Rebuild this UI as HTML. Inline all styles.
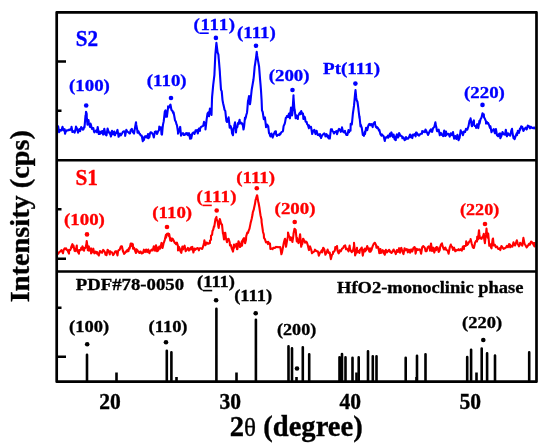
<!DOCTYPE html>
<html><head><meta charset="utf-8"><style>
html,body{margin:0;padding:0;background:#fff;}
body{width:550px;height:448px;overflow:hidden;}
svg{display:block;}
text{font-family:"Liberation Serif","Times New Roman",serif;font-weight:bold;stroke-width:0.35px;}
</style></head><body>
<svg width="550" height="448" viewBox="0 0 550 448"><rect width="550" height="448" fill="#fff"/><polyline points="57.0,133.7 58.1,126.3 59.2,132.1 60.0,130.5 60.3,130.0 61.4,130.5 62.5,126.8 63.6,130.5 64.7,129.2 65.0,133.8 65.8,131.5 66.9,130.3 68.0,130.4 69.1,129.6 70.0,130.1 70.2,129.6 71.3,128.5 71.5,126.8 72.4,132.0 73.0,131.8 73.5,131.2 74.6,132.6 75.7,128.6 76.0,126.6 76.8,128.2 77.9,131.9 78.0,132.6 79.0,129.4 80.0,128.8 80.1,131.1 81.2,127.1 82.3,128.4 83.0,129.7 83.4,129.4 84.5,126.1 84.5,127.4 85.5,115.6 85.6,119.0 86.0,111.7 86.7,113.8 86.8,118.2 87.5,124.6 87.8,122.2 88.5,120.1 88.9,122.7 89.5,125.0 90.0,127.0 90.5,123.6 91.1,125.4 92.0,128.9 92.2,127.9 93.3,128.0 94.0,131.5 94.4,132.4 95.5,131.0 96.6,130.2 97.0,132.2 97.7,127.0 98.8,134.0 99.9,134.0 100.0,131.6 101.0,133.1 102.1,131.0 103.2,134.6 104.3,128.7 105.0,132.2 105.4,134.5 106.5,135.4 107.6,128.5 108.7,132.0 109.8,133.7 110.0,132.5 110.9,136.5 112.0,130.9 113.1,134.4 114.2,131.6 115.0,135.2 115.3,133.9 116.4,132.9 117.5,129.9 118.6,136.8 119.7,134.6 120.0,133.6 120.8,135.4 121.9,133.7 123.0,131.7 124.1,131.3 125.0,132.3 125.2,135.9 126.3,129.9 127.4,131.7 128.5,132.3 129.6,133.5 130.0,133.5 130.7,130.2 131.8,128.9 132.9,132.3 134.0,133.0 134.0,133.6 135.1,127.2 136.0,122.2 136.2,124.4 137.3,130.2 137.5,132.7 138.4,131.1 139.5,133.9 140.0,133.9 140.6,135.5 141.7,135.6 142.8,141.2 143.0,137.3 143.9,140.0 145.0,136.3 145.0,137.3 146.1,136.0 147.2,137.7 148.0,134.1 148.3,138.2 149.4,137.2 150.0,133.4 150.5,132.4 151.6,132.6 152.7,134.1 153.0,134.5 153.8,137.5 154.9,131.7 156.0,131.6 156.0,131.3 157.1,134.0 158.2,131.1 159.0,130.1 159.3,126.6 160.4,127.9 161.0,127.3 161.5,134.2 162.0,134.6 162.6,128.0 163.0,124.6 163.7,121.4 164.5,114.4 164.8,111.5 165.5,110.4 165.9,116.8 167.0,116.8 167.0,115.8 168.0,108.2 168.1,106.4 169.2,107.5 169.5,106.6 170.3,104.8 170.5,104.7 171.4,109.7 171.5,110.1 172.5,110.8 172.5,111.1 173.5,113.6 173.6,112.4 174.7,118.5 175.0,120.3 175.8,121.6 176.5,124.2 176.9,124.9 178.0,131.9 178.0,133.7 179.1,130.4 179.5,129.4 180.2,126.9 181.0,135.7 181.3,133.6 182.4,133.5 183.0,133.2 183.5,134.9 184.6,134.9 185.7,133.3 186.0,134.4 186.8,133.0 187.9,134.1 188.0,135.2 189.0,133.2 190.1,138.7 191.0,134.9 191.2,138.5 192.3,133.5 193.4,132.4 194.0,133.1 194.5,134.0 195.6,130.2 196.7,131.1 197.0,130.0 197.8,133.4 198.9,128.6 200.0,130.9 200.0,128.6 201.1,126.9 202.2,126.3 203.0,126.0 203.3,125.5 204.0,121.9 204.4,122.7 205.5,126.5 205.5,129.4 206.6,119.7 207.5,113.7 207.7,113.2 208.8,112.0 209.0,116.3 209.9,108.5 210.5,110.1 211.0,111.8 211.5,114.9 212.0,99.0 212.1,96.9 213.0,87.1 213.2,85.0 214.3,75.8 214.4,75.0 215.3,55.0 215.4,53.8 216.4,42.8 216.5,43.7 217.5,51.6 217.6,52.3 218.4,54.7 218.7,58.6 218.8,59.3 219.8,71.3 220.0,75.0 220.9,88.4 221.0,89.7 221.7,91.1 222.0,94.3 222.5,100.1 223.1,103.2 224.2,108.0 224.5,109.7 225.3,111.0 226.0,117.5 226.4,120.9 227.0,122.0 227.5,119.9 228.5,117.9 228.6,117.3 229.7,127.7 230.0,125.7 230.8,126.4 231.9,131.0 232.0,133.0 233.0,135.2 233.5,128.9 234.1,126.5 235.0,122.4 235.2,123.6 236.0,132.4 236.3,128.3 237.4,126.8 238.0,123.1 238.5,124.1 239.6,119.7 240.0,123.5 240.7,122.4 241.8,123.9 242.0,123.2 242.9,125.5 243.5,129.5 244.0,127.1 245.0,117.6 245.1,119.4 246.0,116.6 246.2,115.3 247.0,112.7 247.3,109.8 248.0,100.9 248.4,99.7 249.0,96.1 249.5,100.3 250.0,104.3 250.6,100.0 251.5,91.5 251.7,89.7 252.8,83.4 253.4,80.0 253.9,75.6 254.7,66.4 255.0,64.8 256.1,57.1 256.7,51.8 257.2,55.9 258.3,62.1 259.1,66.7 259.4,70.9 260.1,79.7 260.5,84.1 261.0,90.5 261.6,100.2 262.0,110.4 262.7,112.0 263.8,119.2 264.0,118.0 264.9,117.3 266.0,126.3 266.0,127.2 267.0,126.5 267.1,124.5 268.0,126.0 268.2,126.1 269.0,133.2 269.3,133.2 270.4,136.4 271.5,133.5 272.0,135.3 272.6,137.6 273.7,134.4 274.8,131.8 275.9,131.3 276.0,134.0 277.0,135.9 278.1,134.6 279.2,135.1 280.0,133.6 280.3,134.4 281.4,132.1 282.5,131.6 283.0,130.9 283.6,126.1 284.7,123.8 285.0,122.6 285.8,118.0 286.5,117.6 286.9,116.1 288.0,117.0 288.0,116.5 289.0,113.5 289.1,116.0 290.0,118.3 290.2,114.3 291.0,107.5 291.3,108.6 292.0,115.4 292.4,113.6 293.5,95.3 293.5,97.0 294.5,110.5 294.6,109.0 295.7,118.3 296.0,115.1 296.8,116.4 297.9,119.0 298.0,116.1 299.0,114.1 300.0,112.6 300.1,114.3 301.2,111.0 302.3,114.2 303.0,113.5 303.4,119.0 304.5,116.6 305.0,117.9 305.6,121.7 306.7,122.0 307.0,123.8 307.8,124.8 308.9,128.3 309.0,125.4 310.0,127.3 311.0,126.9 311.1,127.3 312.2,134.0 313.0,131.4 313.3,130.6 314.4,129.9 315.5,134.1 316.0,133.1 316.6,130.7 317.7,135.0 318.8,134.6 319.9,136.0 320.0,134.0 321.0,138.1 322.1,135.4 323.2,134.3 324.3,133.4 325.0,134.3 325.4,136.4 326.5,134.2 327.6,137.2 328.0,135.5 328.7,138.5 329.8,138.5 330.0,136.9 330.9,129.4 332.0,129.3 332.0,130.7 333.1,131.5 334.0,133.5 334.2,132.0 335.3,132.2 336.4,131.0 337.0,134.1 337.5,132.6 338.6,129.6 339.0,128.9 339.7,129.2 340.8,131.8 341.9,129.0 342.0,127.4 343.0,131.7 344.1,132.4 345.0,130.8 345.2,132.1 346.3,135.0 347.0,134.5 347.4,135.0 348.5,130.1 349.0,132.3 349.6,130.7 350.5,130.7 350.7,123.8 351.8,124.4 352.0,122.8 352.9,113.5 353.5,109.3 354.0,105.7 354.5,100.3 355.1,93.5 355.5,90.0 356.2,97.4 356.5,99.6 357.3,101.5 357.5,102.0 358.4,108.7 358.5,109.8 359.5,118.1 359.5,116.2 360.5,126.5 360.6,124.3 361.7,127.5 362.0,129.4 362.8,134.9 363.0,134.1 363.9,135.8 365.0,131.5 365.0,134.1 366.1,127.7 367.0,128.2 367.2,130.2 368.3,125.7 369.0,124.3 369.4,123.9 370.5,125.2 371.0,124.0 371.6,124.2 372.7,127.1 373.0,124.4 373.8,123.2 374.9,122.0 375.0,124.0 376.0,127.1 377.0,128.1 377.1,127.1 378.2,128.5 379.0,130.7 379.3,129.7 380.4,134.1 381.5,135.7 382.0,134.4 382.6,135.3 383.7,136.2 384.8,141.0 385.0,139.7 385.9,137.3 387.0,137.5 388.0,135.6 388.1,137.8 389.2,135.7 390.0,133.6 390.3,136.4 391.4,132.4 392.5,136.1 393.0,137.1 393.6,134.6 394.7,139.4 395.8,140.2 396.0,136.8 396.9,134.3 398.0,137.6 399.0,135.5 399.1,133.0 400.2,135.3 401.3,136.0 402.0,136.4 402.4,138.2 403.5,137.3 404.6,140.2 405.7,139.4 406.0,137.1 406.8,138.6 407.9,138.8 409.0,137.2 410.0,134.5 410.1,137.3 411.2,135.3 412.3,138.1 413.0,134.6 413.4,135.3 414.5,134.2 415.6,136.3 416.0,132.6 416.7,132.6 417.8,134.9 418.9,134.5 419.0,135.6 420.0,134.3 421.1,133.6 422.0,133.6 422.2,131.1 423.3,131.9 424.4,131.2 425.0,132.1 425.5,129.5 426.6,131.6 427.7,134.1 428.0,135.0 428.8,133.2 429.9,130.6 431.0,129.3 431.0,131.1 432.1,131.9 433.0,128.3 433.2,128.1 434.3,126.9 435.4,122.2 435.5,123.7 436.5,128.1 437.0,131.2 437.6,131.3 438.7,129.6 439.8,135.2 440.0,134.4 440.9,132.9 442.0,134.9 443.0,134.8 443.1,136.2 444.2,130.5 445.3,136.0 446.0,131.6 446.4,135.1 447.5,133.7 448.0,133.7 448.6,133.9 449.7,136.6 450.8,133.3 451.9,134.8 452.0,135.2 453.0,132.1 454.1,138.6 455.0,136.5 455.2,136.0 456.3,138.9 457.4,134.8 458.0,136.9 458.5,140.2 459.6,137.8 460.7,130.2 461.0,131.8 461.8,131.7 462.9,135.2 464.0,131.6 464.0,131.5 465.1,132.0 466.0,128.9 466.2,129.8 467.3,129.6 468.0,127.4 468.4,126.6 469.5,120.9 470.5,119.4 470.6,118.4 471.7,125.7 472.0,126.2 472.8,122.8 473.9,120.4 474.0,124.6 475.0,126.1 476.0,126.5 476.1,127.9 477.2,124.2 478.0,125.3 478.3,128.1 479.4,120.9 479.5,123.9 480.5,119.2 481.0,118.6 481.6,117.3 482.5,113.2 482.7,114.8 483.8,114.3 484.0,117.2 484.9,118.8 486.0,121.3 486.0,123.6 487.1,122.2 488.0,123.7 488.2,123.1 489.3,125.7 490.0,128.0 490.4,126.3 491.5,132.2 492.0,130.8 492.6,130.5 493.7,129.0 494.8,133.1 495.0,133.3 495.9,129.0 497.0,135.3 498.1,136.3 499.2,133.7 500.0,133.4 500.3,138.2 501.4,136.1 502.5,132.0 503.6,134.3 504.7,134.4 505.0,134.7 505.8,129.8 506.9,136.3 508.0,133.3 509.1,134.9 510.0,134.4 510.2,135.8 511.3,130.6 512.0,128.8 512.4,132.1 513.5,138.1 514.0,136.7 514.6,139.3 515.7,135.9 516.8,133.1 517.0,135.3 517.9,130.8 519.0,132.8 520.0,128.6 520.1,129.9 521.2,126.3 522.3,127.0 523.4,130.9 524.5,128.9 525.0,128.5 525.6,127.6 526.7,129.4 527.8,125.6 528.9,126.1 530.0,128.4 530.0,126.7 531.1,126.9 532.2,128.1 533.3,127.8 534.4,127.5 534.5,129.4" fill="none" stroke="#0000ff" stroke-width="2.1" stroke-linejoin="round"/><polyline points="57.0,253.5 58.1,253.8 59.2,252.2 60.0,251.7 60.3,251.4 61.4,250.1 62.5,252.2 63.0,253.2 63.6,250.1 64.7,248.4 65.8,249.3 66.0,248.3 66.9,250.0 67.5,250.2 68.0,251.6 69.0,253.6 69.1,249.9 70.2,250.2 71.0,248.3 71.3,246.8 72.4,244.2 73.0,247.3 73.5,245.6 74.6,250.9 75.0,251.1 75.7,250.6 76.8,245.5 77.0,250.5 77.9,252.0 79.0,253.6 79.0,250.1 80.1,250.5 81.0,249.1 81.2,247.8 82.3,249.7 82.5,246.3 83.4,248.7 84.0,250.8 84.5,248.0 85.5,247.9 85.6,247.7 86.5,243.1 86.7,241.0 87.5,246.6 87.8,250.2 88.9,246.4 89.0,250.8 90.0,249.8 91.0,248.4 91.1,253.5 92.2,251.9 93.3,248.7 94.0,252.1 94.4,253.3 95.5,251.6 96.6,253.5 97.0,251.9 97.7,253.6 98.8,255.5 99.9,251.0 100.0,252.7 101.0,251.5 102.1,252.8 103.2,249.9 104.3,251.2 105.0,252.3 105.4,254.5 106.5,255.2 107.6,249.8 108.7,251.1 109.8,254.4 110.0,251.2 110.9,251.8 112.0,252.4 113.1,255.1 114.2,253.7 115.0,251.7 115.3,251.2 116.4,251.4 117.5,255.4 118.0,251.6 118.6,250.2 119.7,249.7 120.8,246.6 121.0,246.3 121.9,246.3 123.0,251.5 123.0,250.5 124.1,253.9 125.2,252.7 126.3,251.0 127.0,251.6 127.4,249.7 128.5,251.1 129.0,248.0 129.6,248.7 130.7,243.5 131.0,246.3 131.8,243.5 132.9,244.4 133.0,248.7 134.0,247.7 135.1,250.8 136.0,253.0 136.2,249.2 137.3,250.0 138.4,252.1 139.5,253.0 140.0,251.8 140.6,251.5 141.7,253.5 142.8,253.1 143.9,249.7 145.0,251.9 145.0,252.1 146.1,249.5 147.2,252.1 148.3,249.5 149.4,253.3 150.0,251.2 150.5,251.1 151.6,249.5 152.7,250.5 153.8,246.2 154.9,248.0 155.0,250.8 156.0,245.3 157.1,251.3 158.0,247.5 158.2,250.6 159.3,246.5 160.0,248.7 160.4,247.8 161.5,242.9 162.0,246.8 162.6,247.9 163.7,242.8 164.0,242.2 164.8,239.8 165.9,234.9 166.0,237.8 167.0,233.7 167.5,234.0 168.1,233.4 169.0,236.2 169.2,234.1 170.3,240.5 170.5,237.8 171.4,241.0 172.0,239.6 172.5,238.6 173.6,240.6 174.0,241.3 174.7,242.8 175.8,243.5 176.0,244.3 176.9,242.6 178.0,246.1 178.0,250.4 179.1,247.1 180.0,249.1 180.2,250.7 181.3,252.9 182.4,246.5 183.0,249.4 183.5,248.2 184.6,245.7 185.7,251.2 186.8,249.5 187.0,249.7 187.9,247.9 189.0,250.6 190.1,248.4 191.0,249.5 191.2,247.2 192.3,246.9 193.4,252.5 194.5,248.5 195.0,249.9 195.6,249.4 196.7,248.4 197.8,248.1 198.9,250.4 199.0,248.7 200.0,248.3 201.1,248.3 202.0,249.0 202.2,249.0 203.3,245.9 204.0,243.0 204.4,240.4 205.5,245.2 206.0,243.9 206.6,242.5 207.7,243.7 208.0,243.1 208.8,243.7 209.9,243.1 210.0,240.6 211.0,239.8 211.0,235.8 212.1,234.7 212.5,231.1 213.2,229.8 214.0,226.3 214.3,226.7 215.4,219.3 216.5,216.9 216.5,218.8 217.6,221.4 218.5,227.3 218.7,228.0 219.8,219.0 220.0,219.4 220.9,223.0 222.0,225.0 222.0,224.6 223.0,234.0 223.1,232.8 224.0,239.4 224.2,237.7 224.5,233.1 225.3,232.8 226.0,238.9 226.4,239.7 227.0,242.2 227.5,239.3 228.5,240.1 228.6,238.8 229.7,242.3 230.0,245.4 230.8,244.8 231.9,249.1 232.0,248.8 233.0,251.6 234.0,244.5 234.1,247.7 235.2,245.7 236.0,246.0 236.3,243.9 237.0,249.2 237.4,249.0 238.5,241.2 238.5,241.5 239.6,244.1 240.0,247.0 240.7,246.1 241.8,241.4 242.0,245.7 242.9,239.6 244.0,238.1 244.0,239.8 245.1,243.2 246.0,239.7 246.2,236.3 247.3,232.6 248.0,232.9 248.4,231.4 249.5,228.7 249.5,228.6 250.6,223.1 251.0,221.5 251.7,218.8 252.5,214.8 252.8,212.4 253.9,209.2 254.0,208.2 255.0,203.8 255.5,200.3 256.1,198.4 257.0,195.2 257.2,195.4 258.3,202.2 258.5,202.5 259.4,207.5 260.0,211.9 260.5,215.2 261.5,219.4 261.6,222.1 262.7,229.6 263.0,232.0 263.8,234.4 264.0,237.8 264.9,239.1 266.0,242.3 266.0,242.0 267.1,242.1 268.0,244.1 268.2,241.8 269.3,243.5 270.0,243.6 270.4,249.0 271.5,248.5 272.6,249.2 273.0,248.1 273.7,247.7 274.8,248.0 275.9,246.9 276.0,247.3 277.0,246.9 278.0,247.3 278.1,247.3 279.2,247.1 280.0,247.5 280.3,247.2 281.4,254.3 282.0,252.4 282.5,249.9 283.6,244.0 284.0,242.0 284.7,239.4 285.0,238.8 285.8,244.3 286.0,246.8 286.9,241.6 288.0,236.1 288.0,232.5 289.1,236.6 290.0,237.2 290.2,240.1 291.3,237.6 292.0,240.5 292.4,242.0 293.5,234.7 293.5,233.7 294.5,228.7 294.6,228.8 295.7,229.9 296.0,233.4 296.8,241.4 297.0,237.8 297.9,241.2 298.5,243.1 299.0,242.0 300.0,234.9 300.1,234.2 301.2,246.8 301.5,245.2 302.3,243.9 303.0,238.9 303.4,238.9 304.5,241.4 305.0,242.7 305.6,241.5 306.7,242.2 307.0,242.8 307.8,245.3 308.9,250.1 309.0,247.8 310.0,246.4 311.0,249.2 311.1,249.2 312.0,253.3 312.2,252.3 313.3,252.2 314.4,251.3 315.0,249.7 315.5,250.2 316.6,251.3 317.7,251.2 318.0,251.9 318.8,255.6 319.9,252.8 321.0,251.6 322.0,250.0 322.1,252.4 323.2,247.7 324.3,249.3 325.4,254.7 326.0,253.6 326.5,252.8 327.6,249.6 328.7,252.9 329.8,252.5 330.0,254.6 330.9,259.1 332.0,254.8 333.0,253.8 333.1,251.7 334.2,251.7 335.0,249.8 335.3,247.0 336.4,248.2 337.0,246.0 337.5,250.7 338.6,253.3 339.0,253.0 339.7,250.3 340.8,251.3 341.9,248.8 342.0,248.7 343.0,248.1 344.1,245.9 345.2,245.4 346.0,249.2 346.3,248.2 347.4,249.3 348.5,251.3 349.6,245.6 350.0,248.8 350.7,250.6 351.8,252.2 352.0,251.2 352.9,251.1 354.0,245.7 354.0,242.8 355.0,253.2 355.1,255.5 356.2,252.3 357.0,247.8 357.3,252.5 358.4,251.0 359.5,252.9 360.0,249.7 360.6,249.3 361.7,247.5 362.8,255.6 363.9,249.6 365.0,251.4 365.0,248.6 366.1,250.3 367.2,246.1 368.3,248.8 369.4,251.7 370.0,248.4 370.5,251.7 371.6,249.8 372.0,248.1 372.7,246.2 373.8,243.7 374.5,243.0 374.9,242.8 376.0,244.9 376.5,247.7 377.1,246.5 378.2,247.2 379.0,251.0 379.3,253.2 380.4,249.0 381.0,253.0 381.5,251.3 382.6,250.1 383.7,253.5 384.0,251.0 384.8,254.8 385.9,249.8 387.0,252.4 388.1,251.0 389.2,249.8 390.0,252.0 390.3,251.2 391.4,253.0 392.5,251.6 393.6,249.5 394.7,251.7 395.0,252.0 395.8,254.1 396.9,250.0 398.0,251.9 399.1,248.2 400.0,252.6 400.2,249.6 401.3,247.9 402.4,251.6 403.5,254.1 404.6,248.2 405.0,250.5 405.7,249.9 406.8,249.0 407.9,252.3 409.0,249.7 410.0,250.9 410.1,252.7 411.2,249.4 412.3,251.5 413.4,248.0 414.5,247.0 415.0,247.9 415.6,253.6 416.7,248.8 417.8,250.0 418.9,249.4 420.0,249.6 420.0,249.6 421.1,253.7 422.2,247.2 423.3,246.1 424.4,247.3 425.0,248.3 425.5,251.1 426.6,251.3 427.7,247.4 428.8,246.4 429.9,248.7 430.0,250.7 431.0,243.5 432.1,251.0 433.2,247.7 434.3,252.6 435.4,248.1 436.0,250.3 436.5,247.0 437.6,247.4 438.7,251.9 439.8,249.9 440.0,247.6 440.9,244.7 442.0,243.3 442.0,244.1 443.1,247.5 444.0,249.5 444.2,249.4 445.3,247.5 446.4,250.1 447.5,250.4 448.0,251.7 448.6,253.8 449.7,247.7 450.8,244.6 451.0,245.9 451.9,246.5 453.0,249.3 453.0,249.9 454.1,247.7 455.2,251.3 456.0,249.9 456.3,250.7 457.4,250.1 458.5,249.2 459.0,250.2 459.6,250.3 460.7,249.2 461.8,250.6 462.0,250.0 462.9,246.6 464.0,249.1 464.0,246.0 465.1,246.0 466.0,245.7 466.2,241.2 467.3,244.9 468.0,244.1 468.4,243.2 469.5,241.3 470.5,240.7 470.6,239.1 471.7,243.6 472.0,244.5 472.8,247.3 473.5,247.9 473.9,247.9 475.0,243.1 475.0,242.7 476.1,240.9 477.0,241.5 477.2,236.9 478.0,239.4 478.3,236.8 479.0,230.2 479.4,234.4 480.0,238.4 480.5,237.9 481.6,238.8 482.0,237.4 482.7,237.5 483.8,233.7 484.0,237.5 484.9,243.2 485.0,241.9 486.0,234.2 486.5,228.6 487.1,235.3 488.0,237.9 488.2,233.5 489.3,245.8 489.5,244.7 490.4,244.3 491.0,247.4 491.5,248.4 492.6,239.4 493.0,238.5 493.7,245.4 494.0,244.4 494.8,244.8 495.9,247.2 496.0,246.9 497.0,246.5 498.1,248.9 499.2,248.9 500.0,248.1 500.3,250.1 501.4,246.0 502.5,247.4 503.6,248.9 504.7,248.3 505.0,247.9 505.8,247.7 506.9,245.9 508.0,247.2 509.1,244.0 510.0,244.6 510.2,247.3 511.3,245.9 512.4,246.7 513.5,242.3 514.6,245.2 515.0,245.5 515.7,243.8 516.8,240.3 517.9,244.1 519.0,246.4 520.0,244.3 520.1,242.7 521.2,244.0 522.3,245.7 523.4,237.9 524.5,243.7 525.0,244.5 525.6,245.4 526.7,247.4 527.8,245.9 528.9,243.9 530.0,243.3 530.0,244.7 531.1,241.6 532.2,242.4 533.3,244.3 534.4,246.3 534.5,241.9" fill="none" stroke="#ff0000" stroke-width="2.1" stroke-linejoin="round"/><path d="M87 381.7V354.7 M166.8 381.7V350.7 M171.4 381.7V352.2 M216.4 381.7V308.7 M255.9 381.7V319.8 M288.5 381.7V346.4 M292 381.7V348.4 M302.8 381.7V347.2 M309.2 381.7V354.2 M339.5 381.7V357.2 M342 381.7V354.0 M345.5 381.7V357.4 M352.5 381.7V357.7 M358.7 381.7V357.4 M368 381.7V351.2 M372.8 381.7V356.2 M376.5 381.7V356.2 M405.7 381.7V357.7 M417 381.7V355.7 M425.5 381.7V354.2 M467.2 381.7V357.0 M471.1 381.7V349.8 M481.7 381.7V348.5 M487.1 381.7V353.2 M495 381.7V355.5 M529.2 381.7V352.4" stroke="#000" stroke-width="2.6" stroke-linecap="round" fill="none"/><path d="M116.5 381.7V372.5 M236.5 381.7V372.5 M356.5 381.7V372.5 M476.5 381.7V372.5 M176.5 381.7V377 M296.5 381.7V377 M416.5 381.7V377 M56.7 61.5H66 M56.7 258.8H66 M56.7 356.8H66 M56.7 110.8H61.5 M56.7 209.2H61.5 M56.7 307.8H61.5" stroke="#000" stroke-width="2.6" fill="none"/><rect x="56.7" y="12.3" width="479.8" height="369.4" fill="none" stroke="#000" stroke-width="2.7" stroke-linejoin="round"/><path d="M56.7 160.3H536.5M56.7 271.5H536.5" stroke="#000" stroke-width="2.6"/><circle cx="86.2" cy="105.5" r="2.3" fill="#0000ff"/><circle cx="171" cy="98" r="2.3" fill="#0000ff"/><circle cx="215.9" cy="37.9" r="2.3" fill="#0000ff"/><circle cx="256" cy="45.8" r="2.3" fill="#0000ff"/><circle cx="292.5" cy="90" r="2.3" fill="#0000ff"/><circle cx="355.4" cy="83.6" r="2.3" fill="#0000ff"/><circle cx="482.5" cy="104.9" r="2.3" fill="#0000ff"/><circle cx="87" cy="234.4" r="2.3" fill="#ff0000"/><circle cx="167" cy="227" r="2.3" fill="#ff0000"/><circle cx="216.7" cy="210.5" r="2.3" fill="#ff0000"/><circle cx="256.8" cy="188.3" r="2.3" fill="#ff0000"/><circle cx="294.7" cy="222" r="2.3" fill="#ff0000"/><circle cx="485" cy="224" r="2.3" fill="#ff0000"/><circle cx="87.2" cy="344.3" r="2.3" fill="#000"/><circle cx="166" cy="342.2" r="2.3" fill="#000"/><circle cx="216.1" cy="300.3" r="2.3" fill="#000"/><circle cx="255.7" cy="313.3" r="2.3" fill="#000"/><circle cx="297" cy="368.5" r="2.3" fill="#000"/><circle cx="483.3" cy="340" r="2.3" fill="#000"/><text transform="translate(75.8 46) scale(0.96 1.05)" font-size="22" fill="#0000ff" stroke="#0000ff">S2</text><text transform="translate(69.0 90.6) scale(1.02 0.93)" font-size="18.5" fill="#0000ff" stroke="#0000ff">(100)</text><text transform="translate(146.8 86.0) scale(1.02 0.93)" font-size="18.5" fill="#0000ff" stroke="#0000ff">(110)</text><rect x="199.5" y="32.4" width="9.2" height="1.6" fill="#0000ff"/><text transform="translate(193.5 29.8) scale(1.02 0.93)" font-size="18.5" fill="#0000ff" stroke="#0000ff" letter-spacing="0.7">(111)</text><text transform="translate(237.0 37.5) scale(1.02 0.93)" font-size="18.5" fill="#0000ff" stroke="#0000ff">(111)</text><text transform="translate(268.7 81.0) scale(1.02 0.93)" font-size="18.5" fill="#0000ff" stroke="#0000ff">(200)</text><text transform="translate(323.0 74.2) scale(1.03 0.93)" font-size="18.5" fill="#0000ff" stroke="#0000ff">Pt(111)</text><text transform="translate(464.0 97.7) scale(1.02 0.93)" font-size="18.5" fill="#0000ff" stroke="#0000ff">(220)</text><text transform="translate(75.5 184.5) scale(0.97 1.03)" font-size="22" fill="#ff0000" stroke="#ff0000">S1</text><text transform="translate(64 224.8) scale(1.02 0.93)" font-size="18.5" fill="#ff0000" stroke="#ff0000">(100)</text><text transform="translate(152.3 217.8) scale(1.02 0.93)" font-size="18.5" fill="#ff0000" stroke="#ff0000">(110)</text><rect x="202.6" y="204.6" width="9.2" height="1.6" fill="#ff0000"/><text transform="translate(196.6 202.0) scale(1.02 0.93)" font-size="18.5" fill="#ff0000" stroke="#ff0000" letter-spacing="0.3">(111)</text><text transform="translate(236.3 182.5) scale(1.02 0.93)" font-size="18.5" fill="#ff0000" stroke="#ff0000">(111)</text><text transform="translate(274.6 214.0) scale(1.02 0.93)" font-size="18.5" fill="#ff0000" stroke="#ff0000">(200)</text><text transform="translate(460 215.0) scale(0.98 0.93)" font-size="18.5" fill="#ff0000" stroke="#ff0000">(220)</text><text transform="translate(75.8 289.8) scale(1.014 0.93)" font-size="18.5" fill="#000" stroke="#000">PDF#78-0050</text><rect x="203.0" y="289.8" width="9.2" height="1.6" fill="#000"/><text transform="translate(197.0 287.2) scale(1.0 0.96)" font-size="18.5" fill="#000" stroke="#000">(111)</text><text transform="translate(234.2 300.5) scale(1.0 0.96)" font-size="18.5" fill="#000" stroke="#000">(111)</text><text transform="translate(337.0 293.2) scale(1.0 0.93)" font-size="18.5" fill="#000" stroke="#000">HfO2-monoclinic phase</text><text transform="translate(69.0 331.6) scale(1.0 0.96)" font-size="18.5" fill="#000" stroke="#000">(100)</text><text transform="translate(148.5 332.2) scale(1.0 0.96)" font-size="18.5" fill="#000" stroke="#000">(110)</text><text transform="translate(277 334.8) scale(0.98 0.96)" font-size="18.5" fill="#000" stroke="#000">(200)</text><text transform="translate(462 327.7) scale(1.0 0.96)" font-size="18.5" fill="#000" stroke="#000">(220)</text><text transform="translate(99.3 409) scale(0.98 1.05)" font-size="22" fill="#000" stroke="#000">20</text><text transform="translate(219.5 409) scale(0.98 1.05)" font-size="22" fill="#000" stroke="#000">30</text><text transform="translate(339.5 409) scale(0.98 1.05)" font-size="22" fill="#000" stroke="#000">40</text><text transform="translate(459.5 409) scale(0.98 1.05)" font-size="22" fill="#000" stroke="#000">50</text><text x="229.8" y="435.6" font-size="28.6" fill="#000" stroke="#000">2<tspan font-weight="normal" font-size="25">θ</tspan> (degree)</text><text transform="translate(29.3 302.2) rotate(-90)" font-size="28.3" fill="#000" stroke="#000">Intensity (cps)</text></svg>
</body></html>
